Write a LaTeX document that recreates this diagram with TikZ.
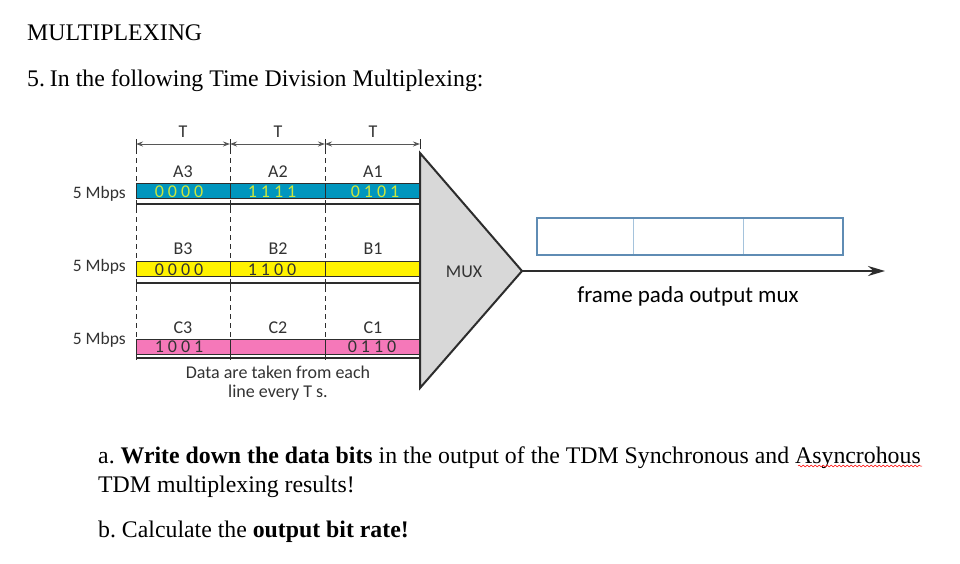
\documentclass[tikz,border=0pt]{standalone}
\usepackage{fontspec}
\setmainfont{Liberation Serif}
\newfontfamily\lab{Carlito}
\usetikzlibrary{arrows.meta,decorations.pathmorphing}
\definecolor{linedk}{RGB}{45,45,45}
\definecolor{barblue}{RGB}{0,150,190}
\definecolor{barpink}{RGB}{245,120,185}
\definecolor{bitlime}{RGB}{205,230,60}
\definecolor{muxgray}{RGB}{216,216,216}
\definecolor{framebl}{RGB}{95,140,180}
\definecolor{framelt}{RGB}{165,195,220}
\newcommand{\bsp}{\hspace{4pt}}
\tikzset{
  prose/.style={anchor=base west,inner sep=0pt,font=\fontsize{23.8}{28}\selectfont,text=black},
  lbl/.style={inner sep=0pt,font=\lab\fontsize{18}{21}\selectfont,text=black!80},
  rate/.style={lbl,anchor=east,font=\lab\fontsize{17.5}{21}\selectfont},
  bits/.style={inner sep=0pt,font=\lab\fontsize{18}{20}\selectfont},
  gridd/.style={draw=linedk,line width=1pt,dash pattern=on 5pt off 4pt},
  dimar/.style={draw=linedk!80,line width=0.9pt,{Stealth[length=7pt,width=5pt]}-{Stealth[length=7pt,width=5pt]}},
  tickm/.style={draw=linedk,line width=1pt},
}
\begin{document}
\begin{tikzpicture}[x=1pt,y=-1pt]
\useasboundingbox (0,0) rectangle (960,563);
\fill[white] (0,0) rectangle (960,563);
% prose
\node[prose] (h1) at (27,40) {MULTIPLEXING};
\node[prose] (h2) at (27,86) {5.\hspace{-3pt} In the following Time Division Multiplexing:};
\node[prose] (qa1) at (98,463) {a.\hspace{-2pt} \textbf{Write down the data bits} in the output of the TDM Synchronous and Asyncrohous};
\node[prose] (qa2) at (98,492) {TDM multiplexing results!};
\node[prose] (qb) at (98,537) {b.\hspace{-2pt} Calculate the \textbf{output bit rate!}};
\coordinate (sqa) at (798,466);
\coordinate (sqb) at (922,466);
\draw[red,line width=0.5pt,decorate,decoration={snake,amplitude=0.9pt,segment length=4pt}] (sqa) -- (sqb);
% bars
\fill[barblue] (136,183) rectangle (420,198);
\fill[yellow] (136,261) rectangle (420,276);
\fill[barpink] (136,339) rectangle (420,354);
% dashed verticals
\foreach \x in {136,230,325}{
  \draw[gridd] (\x,149) -- (\x,183);
  \draw[gridd] (\x,208) -- (\x,260);
  \draw[gridd] (\x,287) -- (\x,338);
  \draw[tickm] (\x,183) -- (\x,198);
  \draw[tickm] (\x,261) -- (\x,276);
  \draw[tickm] (\x,339) -- (\x,354);
  \draw[tickm] (\x,200) -- (\x,208);
  \draw[tickm] (\x,279) -- (\x,287);
  \draw[tickm] (\x,354) -- (\x,360);
}
% end ticks of dimension row
\foreach \x in {136,230,325,420}{\draw[tickm] (\x,139) -- (\x,149);}
% horizontal lines
\foreach \y in {183,198,261,276,339,354}{\draw[draw=linedk,line width=0.9pt] (136,\y) -- (420,\y);}
\foreach \y in {204,283,358}{\draw[draw=linedk,line width=1.5pt] (136,\y) -- (420,\y);}
% dimension arrows
\coordinate (d0) at (136,144); \coordinate (d1) at (230,144);
\coordinate (d2) at (325,144); \coordinate (d3) at (420,144);
\draw[dimar] (d0) -- (d1);
\draw[dimar] (d1) -- (d2);
\draw[dimar] (d2) -- (d3);
\node[lbl] (t1) at (183,132) {T};
\node[lbl] (t2) at (278,132) {T};
\node[lbl] (t3) at (373,132) {T};
% labels
\node[rate] (r1) at (126,194) {5 Mbps};
\node[rate] (r2) at (126,267) {5 Mbps};
\node[rate] (r3) at (126,340) {5 Mbps};
\node[lbl] (a3) at (183,172) {A3};
\node[lbl] (a2) at (278,172) {A2};
\node[lbl] (a1) at (373,172) {A1};
\node[lbl] (b3) at (183,249) {B3};
\node[lbl] (b2) at (278,249) {B2};
\node[lbl] (b1) at (373,249) {B1};
\node[lbl] (c3) at (183,328) {C3};
\node[lbl] (c2) at (278,328) {C2};
\node[lbl] (c1) at (373,328) {C1};
\node[bits,text=bitlime] (ba3) at (179,192) {0\bsp0\bsp0\bsp0};
\node[bits,text=bitlime] (ba2) at (272,192) {1\bsp1\bsp1\bsp1};
\node[bits,text=bitlime] (ba1) at (375,192) {0\bsp1\bsp0\bsp1};
\node[bits,text=black!80] (bb3) at (179,270) {0\bsp0\bsp0\bsp0};
\node[bits,text=black!80] (bb2) at (272,270) {1\bsp1\bsp0\bsp0};
\node[bits,text=black!80] (bc3) at (179,347) {1\bsp0\bsp0\bsp1};
\node[bits,text=black!80] (bc1) at (372,347) {0\bsp1\bsp1\bsp0};
\node[lbl] (n1) at (278,372) {Data are taken from each};
\node[lbl] (n2) at (278,393) {line every T s.};
% mux
\coordinate (m1) at (420,153);
\coordinate (m2) at (522,271);
\coordinate (m3) at (420,388);
\draw[draw=linedk,line width=2pt,fill=muxgray,line join=miter] (m1) -- (m2) -- (m3) -- cycle;
\node[lbl] (mx) at (464,272) {MUX};
% output
\coordinate (outend) at (885,271);
\draw[draw=linedk,line width=2pt,-{Stealth[length=17pt,width=10pt]}] (m2) -- (outend);
\node[inner sep=0pt,font=\lab\fontsize{23}{27}\selectfont,text=black] (fr) at (688,296) {frame pada output mux};
% frame
\draw[framelt,line width=1pt] (633,218) -- (633,255);
\draw[framelt,line width=1pt] (743,218) -- (743,255);
\draw[framebl,line width=1.1pt] (537,218) rectangle (843,255);
\end{tikzpicture}
\end{document}
